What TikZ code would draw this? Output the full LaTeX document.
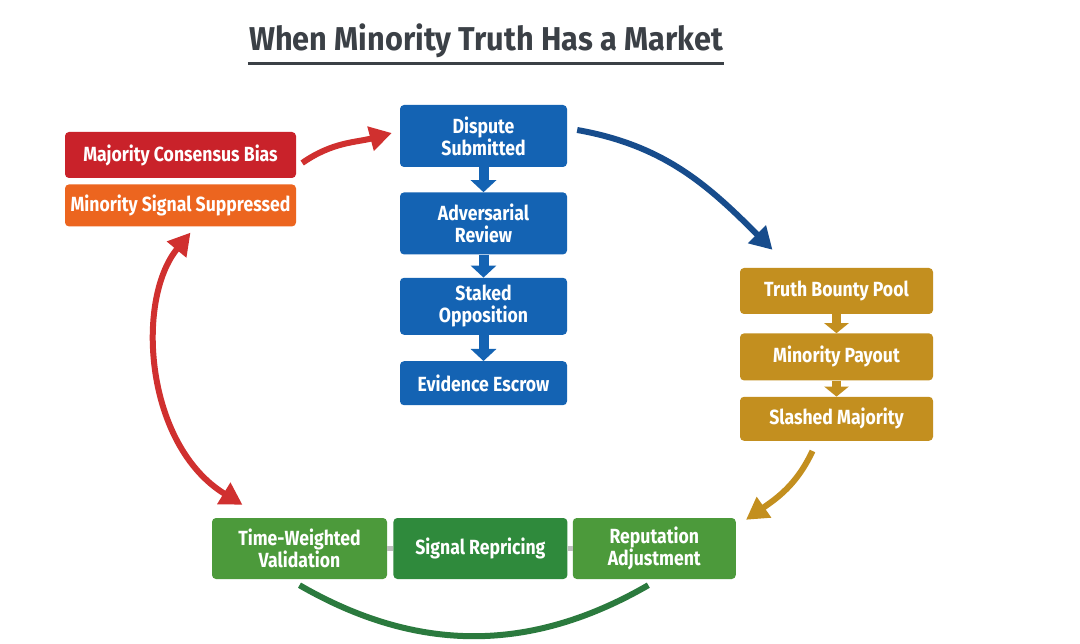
\documentclass[tikz,border=0pt]{standalone}
\usepackage{fontspec}
\setmainfont{Fira Sans}[FakeStretch=0.86]
\newfontfamily\headfont{Fira Sans}[FakeStretch=0.93]
\usetikzlibrary{positioning, arrows.meta}

\definecolor{biasred}{HTML}{C9222A}
\definecolor{suporange}{HTML}{EC651F}
\definecolor{flowblue}{HTML}{1463B3}
\definecolor{arcblue}{HTML}{174C8C}
\definecolor{poolgold}{HTML}{C38F1F}
\definecolor{leafgreen}{HTML}{4C9A3B}
\definecolor{deepgreen}{HTML}{2F8A3C}
\definecolor{arcgreen}{HTML}{2B7A3E}
\definecolor{loopred}{HTML}{D0302F}
\definecolor{titlegray}{HTML}{3B4046}

\begin{document}
\begin{tikzpicture}[x=1pt, y=1pt,
    box/.style={rounded corners=4pt, text=white, align=center, inner sep=2pt,
      font=\fontsize{20.5}{22}\selectfont\bfseries},
    stack/.style={line width=10pt, -{Triangle[width=25pt, length=12pt]}},
    loop/.style={line width=6pt, -{Triangle[width=24pt, length=22pt]}}]
  \useasboundingbox[fill=white] (0,0) rectangle (1080,-644);

  % title
  \node[font=\headfont\fontsize{33}{35}\selectfont\bfseries, text=titlegray, inner sep=0pt,
    minimum width=476pt] (title) at (486,-41) {When Minority Truth Has a Market};
  \draw[titlegray, line width=3pt] ([yshift=-5pt]title.south west) -- ([yshift=-5pt]title.south east);

  % left: the bias
  \node[box, fill=biasred, minimum width=231pt, minimum height=46pt] (bias) at (180.5,-155) {Majority Consensus Bias};
  \node[box, fill=suporange, minimum width=231pt, minimum height=42pt, below=6pt of bias] (supp) {Minority Signal Suppressed};

  % centre: dispute flow
  \node[box, fill=flowblue, minimum width=167pt, minimum height=62pt] (disp) at (483.5,-136) {Dispute\\Submitted};
  \node[box, fill=flowblue, minimum width=167pt, minimum height=62pt, below=25pt of disp] (adv) {Adversarial\\Review};
  \node[box, fill=flowblue, minimum width=167pt, minimum height=57pt, below=23pt of adv] (stake) {Staked\\Opposition};
  \node[box, fill=flowblue, minimum width=167pt, minimum height=44pt, below=26pt of stake] (escrow) {Evidence Escrow};
  \draw[stack, flowblue] (disp) -- (adv);
  \draw[stack, flowblue] (adv) -- (stake);
  \draw[stack, flowblue] (stake) -- (escrow);

  % right: payouts
  \node[box, fill=poolgold, minimum width=193pt, minimum height=46pt] (pool) at (836.5,-291) {Truth Bounty Pool};
  \node[box, fill=poolgold, minimum width=193pt, minimum height=47pt, below=19pt of pool] (payout) {Minority Payout};
  \node[box, fill=poolgold, minimum width=193pt, minimum height=44pt, below=16pt of payout] (slash) {Slashed Majority};
  \draw[stack, poolgold, line width=9pt, -{Triangle[width=24pt, length=10pt]}] (pool) -- (payout);
  \draw[stack, poolgold, line width=9pt, -{Triangle[width=24pt, length=10pt]}] (payout) -- (slash);

  % bottom: repricing
  \node[box, fill=leafgreen, minimum width=175pt, minimum height=61pt] (tw) at (299.5,-548.5) {Time-Weighted\\Validation};
  \node[box, fill=deepgreen, minimum width=174pt, minimum height=61pt, right=6pt of tw] (repr) {Signal Repricing};
  \node[box, fill=leafgreen, minimum width=163pt, minimum height=61pt, right=5pt of repr] (rep) {Reputation\\Adjustment};
  \draw[black!25, line width=5pt] (tw) -- (repr);
  \draw[black!25, line width=5pt] (repr) -- (rep);

  % the loop
  \draw[loop, loopred] ([shift={(6,-8)}]bias.east) to[out=35, in=195] ([shift={(-8,3)}]disp.west);
  \draw[loop, arcblue] ([shift={(10,6)}]disp.east) to[out=-10, in=135] ([shift={(-64,18)}]pool.north);
  \draw[loop, poolgold] ([shift={(-24,-10)}]slash.south) to[out=245, in=35] ([shift={(10,-2)}]rep.north east);
  \draw[loop, loopred, {Triangle[width=24pt, length=22pt]}-{Triangle[width=24pt, length=22pt]}]
    ([shift={(10,-6)}]supp.south) .. controls (135,-300) and (145,-445) .. ([shift={(-57,13)}]tw.north);
  \draw[arcgreen, line width=6pt] ([yshift=-6pt]tw.south) to[out=-30, in=-150] ([shift={(-6,-6)}]rep.south);
\end{tikzpicture}
\end{document}
